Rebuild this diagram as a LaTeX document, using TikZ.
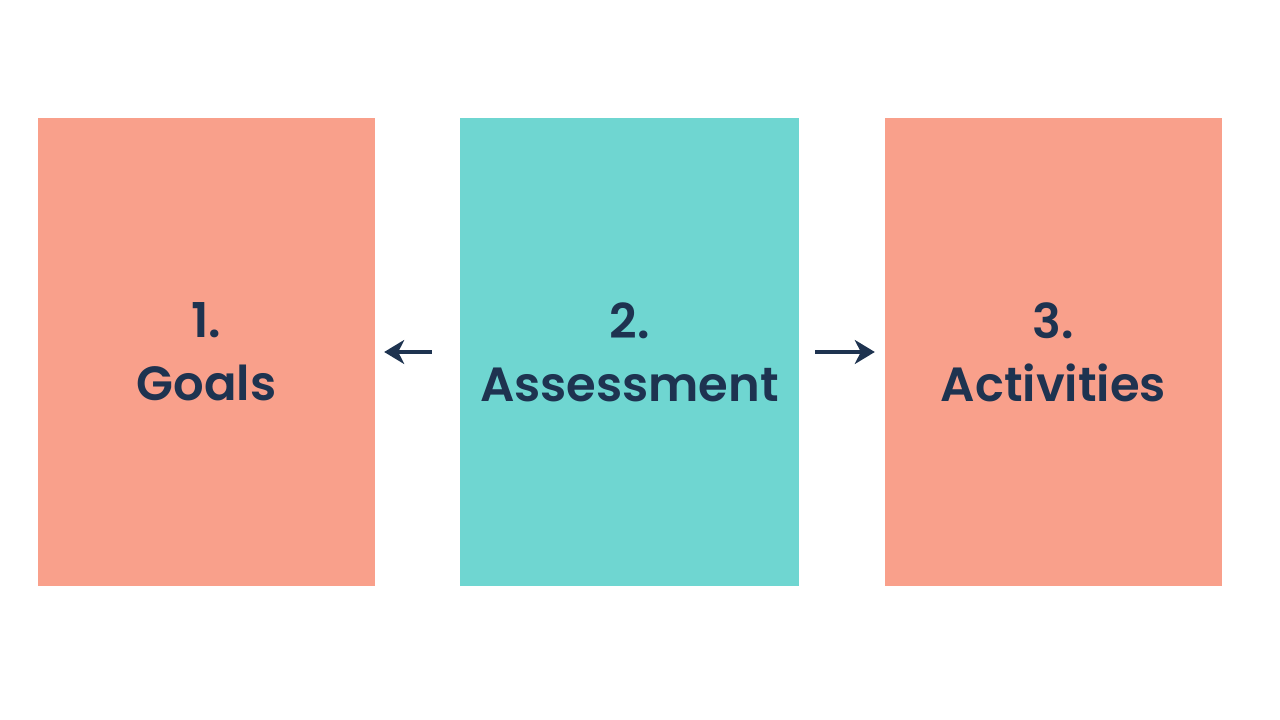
\documentclass[tikz,border=0pt]{standalone}
\usepackage{fontspec}
\setmainfont{Poppins}[BoldFont={Poppins SemiBold}]
\usepackage{tikz}
\usetikzlibrary{shapes,arrows.meta}
\usetikzlibrary{calc}
\definecolor{salmon}{HTML}{F9A08B}
\definecolor{aqua}{HTML}{6FD6D1}
\definecolor{navy}{HTML}{1E3350}
\tikzstyle{stagebox} = [rectangle, fill=salmon, text=navy, align=center,
    minimum width=337pt, minimum height=468pt, inner sep=0pt,
    font=\fontsize{48}{63}\selectfont\bfseries]
\tikzstyle{line} = [draw=navy, line width=3.2pt, -{Stealth[length=20pt,width=24pt,inset=6pt]}]

\begin{document}
\begin{tikzpicture}[x=1pt, y=1pt]
    \useasboundingbox[fill=white] (0,0) rectangle (1280,720);
    \node [stagebox] (goals) at (206.5,368) {1.\\Goals};
    \node [stagebox, right of=goals, node distance=423pt, fill=aqua, minimum width=339pt] (assess) {2.\\Assessment};
    \node [stagebox, right of=assess, node distance=424pt] (activ) {3.\\Activities};
    % Draw edges
    \path[line, shorten <=28pt, shorten >=9pt] (assess.west) -- (goals.east);
    \path[line, shorten <=16pt, shorten >=10pt] (assess.east) -- (activ.west);
\end{tikzpicture}
\end{document}
